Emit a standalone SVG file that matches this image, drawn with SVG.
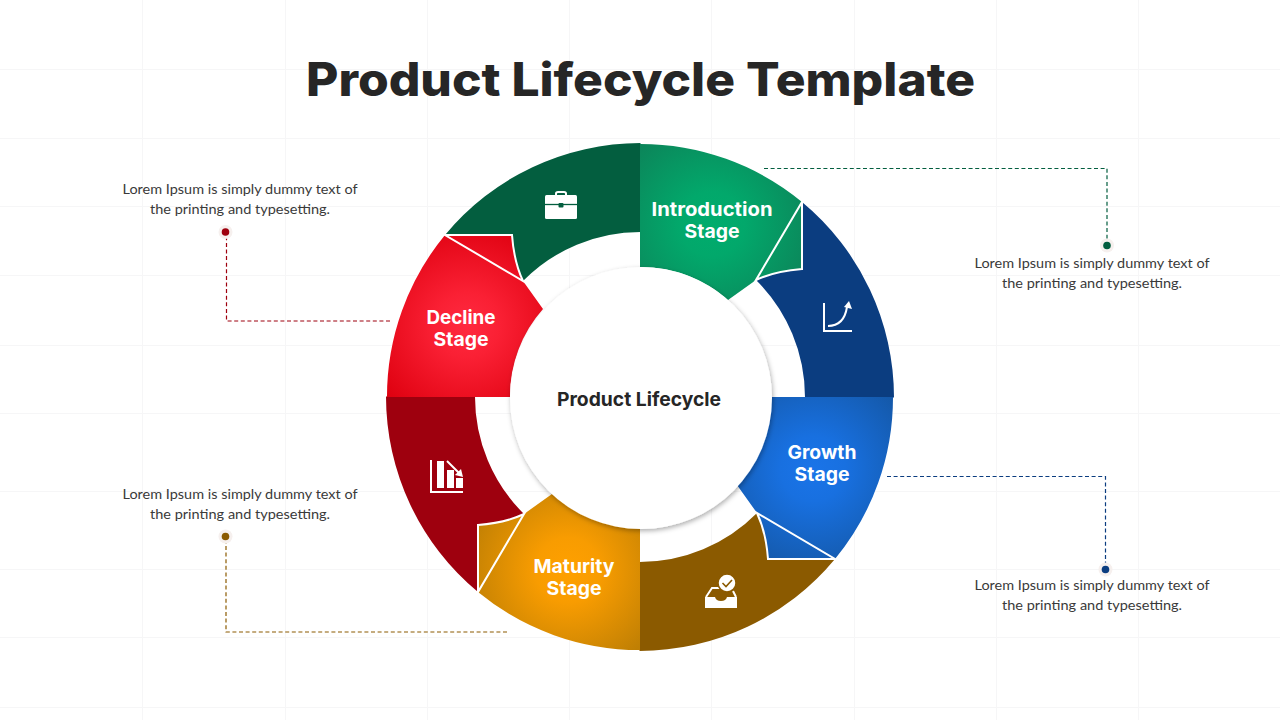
<svg xmlns="http://www.w3.org/2000/svg" width="1280" height="720" viewBox="0 0 1280 720">
<style>
.grid{stroke:#f6f6f7;stroke-width:1;fill:none}
.title{font-family:"Inter","Liberation Sans",sans-serif;font-weight:800;font-size:46px;fill:#262626}
.center{font-family:"Inter","Liberation Sans",sans-serif;font-weight:700;font-size:19px;fill:#262626}
.stage{font-family:"Inter","Liberation Sans",sans-serif;font-weight:700;font-size:19px;fill:#fff;text-anchor:middle}
.body{font-family:"Lato","Liberation Sans",sans-serif;font-size:14px;fill:#3a3a3a;text-anchor:middle}
.fold{stroke:#fff;stroke-width:2;stroke-linejoin:miter}
.conn{fill:none;stroke-width:1.2;stroke-dasharray:4 2.6}
.halo{fill:#f6f0ee}
.ic{fill:#fff}
.ics{fill:none;stroke:#fff;stroke-width:2}
</style>
<defs>
<path id="dark" d="M802 202A254 254 0 0 1 894 397.500H805A165 165 0 0 0 756 280Z"/>
<path id="light" d="M640 144A254 254 0 0 1 802 202L756 280L728 300A131 131 0 0 0 640 267Z"/>
<path id="foldp" d="M802 202V269Q775 271 756 280Z"/>
<radialGradient id="gG" gradientUnits="userSpaceOnUse" cx="712" cy="224" r="108"><stop offset="0" stop-color="#00AC6D"/><stop offset=".3" stop-color="#02A86B"/><stop offset="1" stop-color="#0C8459"/></radialGradient>
<radialGradient id="gB" gradientUnits="userSpaceOnUse" cx="712" cy="224" r="108"><stop offset="0" stop-color="#1A74E8"/><stop offset=".3" stop-color="#1870E0"/><stop offset="1" stop-color="#1458A8"/></radialGradient>
<radialGradient id="gO" gradientUnits="userSpaceOnUse" cx="712" cy="224" r="108"><stop offset="0" stop-color="#FFA000"/><stop offset=".3" stop-color="#F89C01"/><stop offset="1" stop-color="#BD7E04"/></radialGradient>
<radialGradient id="gR" gradientUnits="userSpaceOnUse" cx="712" cy="224" r="108"><stop offset="0" stop-color="#FF2A40"/><stop offset=".3" stop-color="#FA2034"/><stop offset="1" stop-color="#DE000F"/></radialGradient>
<filter id="sh" x="-15%" y="-15%" width="130%" height="130%"><feDropShadow dx="1" dy="2" stdDeviation="2.500" flood-color="#000" flood-opacity=".32"/></filter>
</defs>
<rect width="1280" height="720" fill="#fff"/>
<g id="background-grid" class="grid">
<path d="M142.500 0V720M285.500 0V720M427.500 0V720M569.500 0V720M711.500 0V720M854.500 0V720M996.500 0V720M1138.500 0V720"/>
<path d="M0 69.500H1280M0 138.500H1280M0 206.500H1280M0 275.500H1280M0 345.500H1280M0 413.500H1280M0 491.500H1280M0 569.500H1280M0 637.500H1280M0 707.500H1280"/>
</g>
<text id="title" class="title" x="306" y="96" textLength="669" lengthAdjust="spacingAndGlyphs">Product Lifecycle Template</text>
<g id="connectors">
<path class="conn" stroke="#035E3F" d="M764 168.500H1107V241"/>
<path class="conn" stroke="#0B3D80" d="M887 476.500H1105.500V565"/>
<path class="conn" stroke="#9E000E" d="M390 321H226.500V236"/>
<path class="conn" stroke="#8B5A00" d="M507 632H226V541"/>
</g>
<g id="node-introduction-icon-segment">
<use href="#dark" fill="#0B3D80"/>
<path class="ics" d="M824 303V331H852"/>
<path class="ics" d="M828 326Q844 326 847 307"/>
<path class="ic" d="M849 301L852 309L844 307Z"/>
</g>
<g id="node-growth-icon-segment">
<use href="#dark" fill="#8B5A00" transform="rotate(90 640 397)"/>
<path class="ics" d="M706 597L712 588H721M733 591L736 597"/>
<path class="ic" d="M705 597H715Q716 601 721 601Q726 601 727 597H737V608H705Z"/>
<circle cx="727" cy="583" r="9" fill="#fff" stroke="#8B5A00" stroke-width="1.500"/>
<path d="M722.500 583L726 586.500L732 580" fill="none" stroke="#8B5A00" stroke-width="1.600"/>
</g>
<g id="node-maturity-icon-segment">
<use href="#dark" fill="#9E000E" transform="rotate(180 640 397)"/>
<path class="ics" d="M431 460V492H463"/>
<rect class="ic" x="437" y="461" width="7" height="27"/>
<rect class="ic" x="447" y="470" width="7" height="18"/>
<rect class="ic" x="456" y="478" width="7" height="10"/>
<path class="ics" d="M447 461L459 473" stroke-width="1.500"/>
<path class="ic" d="M463 477L455 475L461 469Z"/>
</g>
<g id="node-decline-icon-segment">
<use href="#dark" fill="#035E3F" transform="rotate(270 640 397)"/>
<path class="ics" d="M556 196V193.500Q556 192 558 192H564Q566 192 566 193.500V196"/>
<rect class="ic" x="545" y="195" width="32" height="24" rx="1.500"/>
<path d="M545 204.500H577" stroke="#035E3F" stroke-width="1.300"/>
<rect x="558.500" y="203" width="5" height="4.500" rx="1" fill="#035E3F"/>
</g>
<g id="node-introduction">
<use href="#light" fill="url(#gG)"/>
<use href="#foldp" fill="url(#gG)" class="fold"/>
<text class="stage" x="712" y="216" textLength="121" lengthAdjust="spacingAndGlyphs">Introduction</text>
<text class="stage" x="712" y="238" textLength="55" lengthAdjust="spacingAndGlyphs">Stage</text>
</g>
<g id="node-growth">
<g transform="rotate(90 640 397)"><use href="#light" fill="url(#gB)"/><use href="#foldp" fill="url(#gB)" class="fold"/></g>
<text class="stage" x="822" y="459" textLength="69" lengthAdjust="spacingAndGlyphs">Growth</text>
<text class="stage" x="822" y="481" textLength="55" lengthAdjust="spacingAndGlyphs">Stage</text>
</g>
<g id="node-maturity">
<g transform="rotate(180 640 397)"><use href="#light" fill="url(#gO)"/><use href="#foldp" fill="url(#gO)" class="fold"/></g>
<text class="stage" x="574" y="573" textLength="81" lengthAdjust="spacingAndGlyphs">Maturity</text>
<text class="stage" x="574" y="595" textLength="55" lengthAdjust="spacingAndGlyphs">Stage</text>
</g>
<g id="node-decline">
<g transform="rotate(270 640 397)"><use href="#light" fill="url(#gR)"/><use href="#foldp" fill="url(#gR)" class="fold"/></g>
<text class="stage" x="461" y="324" textLength="69" lengthAdjust="spacingAndGlyphs">Decline</text>
<text class="stage" x="461" y="346" textLength="55" lengthAdjust="spacingAndGlyphs">Stage</text>
</g>
<g id="node-center">
<circle cx="641" cy="398" r="131" fill="#fff" filter="url(#sh)"/>
<text class="center" x="557" y="406" textLength="164" lengthAdjust="spacingAndGlyphs">Product Lifecycle</text>
</g>
<g id="note-decline">
<text class="body" x="240" y="194" textLength="235" lengthAdjust="spacingAndGlyphs">Lorem Ipsum is simply dummy text of</text>
<text class="body" x="240" y="214" textLength="180" lengthAdjust="spacingAndGlyphs">the printing and typesetting.</text>
<circle class="halo" cx="225.500" cy="232" r="7"/><circle cx="225.500" cy="232" r="3.800" fill="#9E000E"/>
</g>
<g id="note-maturity">
<text class="body" x="240" y="499" textLength="235" lengthAdjust="spacingAndGlyphs">Lorem Ipsum is simply dummy text of</text>
<text class="body" x="240" y="519" textLength="180" lengthAdjust="spacingAndGlyphs">the printing and typesetting.</text>
<circle class="halo" cx="225.500" cy="536.500" r="7"/><circle cx="225.500" cy="536.500" r="3.800" fill="#8B5A00"/>
</g>
<g id="note-introduction">
<text class="body" x="1092" y="268" textLength="235" lengthAdjust="spacingAndGlyphs">Lorem Ipsum is simply dummy text of</text>
<text class="body" x="1092" y="288" textLength="180" lengthAdjust="spacingAndGlyphs">the printing and typesetting.</text>
<circle class="halo" cx="1107" cy="245.500" r="7"/><circle cx="1107" cy="245.500" r="3.800" fill="#035E3F"/>
</g>
<g id="note-growth">
<text class="body" x="1092" y="590" textLength="235" lengthAdjust="spacingAndGlyphs">Lorem Ipsum is simply dummy text of</text>
<text class="body" x="1092" y="610" textLength="180" lengthAdjust="spacingAndGlyphs">the printing and typesetting.</text>
<circle class="halo" cx="1105.500" cy="569.500" r="7"/><circle cx="1105.500" cy="569.500" r="3.800" fill="#0B3D80"/>
</g>
</svg>
